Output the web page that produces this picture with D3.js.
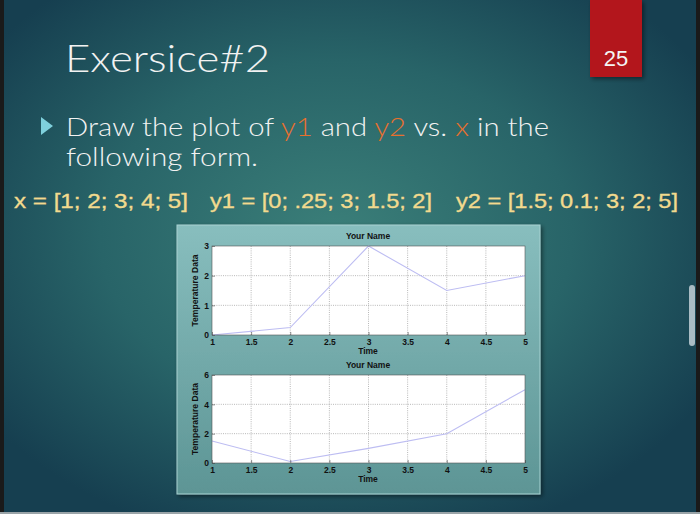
<!DOCTYPE html>
<html>
<head>
    <title>Exersice#2</title>
    <script src="https://d3js.org/d3.v7.min.js"></script>
    <style>
        body { margin: 0; background: #1a1a1a; overflow: hidden; }
        .tick-label { font-family: "Liberation Sans", Arial; font-size: 8.5px; font-weight: bold; fill: #111; }
        .grid line { stroke: #9a9a9a; stroke-width: 0.7px; stroke-dasharray: 1,1.2; }
        .slide-text { font-family: Lato, "Open Sans", sans-serif; font-weight: 300; }
    </style>
</head>
<body>
    <div id="slide"></div>

    <script>
        // data
        const xValues = [1, 2, 3, 4, 5];
        const y1Values = [0, 0.25, 3, 1.5, 2];
        const y2Values = [1.5, 0.1, 1, 2, 5];   // as drawn in the lower plot
        const xTicks = [1, 1.5, 2, 2.5, 3, 3.5, 4, 4.5, 5];
        const y1Ticks = [0, 1, 2, 3];
        const y2Ticks = [0, 2, 4, 6];
        const plotTitle = "Your Name";
        const xLabel = "Time";
        const yLabel = "Temperature Data";

        const width = 700, height = 514;
        const svg = d3.select("#slide")
            .append("svg")
            .attr("width", width)
            .attr("height", height);

        const defs = svg.append("defs");
        const bg = defs.append("radialGradient")
            .attr("id", "bg")
            .attr("cx", "0.48").attr("cy", "0.46").attr("r", "0.62");
        bg.append("stop").attr("offset", "0%").attr("stop-color", "#3b7f79");
        bg.append("stop").attr("offset", "55%").attr("stop-color", "#286468");
        bg.append("stop").attr("offset", "100%").attr("stop-color", "#163f50");

        const frameGrad = defs.append("linearGradient")
            .attr("id", "frame").attr("x1", 0).attr("y1", 0).attr("x2", 0).attr("y2", 1);
        frameGrad.append("stop").attr("offset", "0%").attr("stop-color", "#88bebe");
        frameGrad.append("stop").attr("offset", "100%").attr("stop-color", "#5d9595");

        const shadow = defs.append("filter").attr("id", "shadow")
            .attr("x", "-10%").attr("y", "-10%").attr("width", "130%").attr("height", "130%");
        shadow.append("feDropShadow").attr("dx", 2).attr("dy", 2)
            .attr("stdDeviation", 2).attr("flood-color", "#000").attr("flood-opacity", 0.45);

        // slide background
        svg.append("rect").attr("x", 4).attr("y", 0)
            .attr("width", 692).attr("height", 512)
            .attr("fill", "url(#bg)");
        svg.append("rect").attr("x", 0).attr("y", 512)
            .attr("width", width).attr("height", 2).attr("fill", "#9aa4a8");

        // page number box
        svg.append("rect").attr("x", 590).attr("y", 0)
            .attr("width", 52).attr("height", 77)
            .attr("fill", "#b3191b").attr("filter", "url(#shadow)");
        svg.append("text").attr("x", 616).attr("y", 66)
            .attr("text-anchor", "middle")
            .attr("font-family", "Liberation Sans, Arial")
            .attr("font-size", 22).attr("fill", "#f4f4f4")
            .text("25");

        // scrollbar
        svg.append("rect").attr("x", 689).attr("y", 285)
            .attr("width", 6).attr("height", 61).attr("rx", 3)
            .attr("fill", "#a9bcc4");

        // title and bullet text
        svg.append("text").attr("class", "slide-text")
            .attr("x", 65).attr("y", 72)
            .attr("font-size", 37).attr("fill", "#f2f2f2")
            .attr("textLength", 205).attr("lengthAdjust", "spacingAndGlyphs")
            .text("Exersice#2");

        svg.append("path")
            .attr("d", d3.line()([[41, 117], [41, 135], [53, 126]]) + "Z")
            .attr("fill", "#7fd0dc");

        const line1 = svg.append("text").attr("class", "slide-text")
            .attr("x", 66).attr("y", 136)
            .attr("font-size", 25).attr("fill", "#f2f2f2")
            .attr("textLength", 483).attr("lengthAdjust", "spacingAndGlyphs");
        [["Draw the plot of ", "#f2f2f2"], ["y1", "#e8702e"], [" and ", "#f2f2f2"],
         ["y2", "#e8702e"], [" vs. ", "#f2f2f2"], ["x", "#e8702e"], [" in the", "#f2f2f2"]]
            .forEach(p => line1.append("tspan").attr("fill", p[1]).text(p[0]));

        svg.append("text").attr("class", "slide-text")
            .attr("x", 66).attr("y", 166)
            .attr("font-size", 25).attr("fill", "#f2f2f2")
            .attr("textLength", 192).attr("lengthAdjust", "spacingAndGlyphs")
            .text("following form.");

        // formula line
        const formulas = [
            {x: 14, w: 174, t: "x = [1; 2; 3; 4; 5]"},
            {x: 210, w: 222, t: "y1 = [0; .25; 3; 1.5; 2]"},
            {x: 456, w: 222, t: "y2 = [1.5; 0.1; 3; 2; 5]"}
        ];
        svg.selectAll(".formula")
            .data(formulas)
            .join("text")
            .attr("class", "formula")
            .attr("x", d => d.x).attr("y", 208)
            .attr("font-family", "Liberation Sans Narrow, Liberation Sans, Arial")
            .attr("font-size", 21).attr("fill", "#f2da8e")
            .attr("stroke", "#f2da8e").attr("stroke-width", 0.35)
            .attr("textLength", d => d.w).attr("lengthAdjust", "spacingAndGlyphs")
            .text(d => d.t);

        // figure window
        svg.append("rect").attr("x", 177).attr("y", 225)
            .attr("width", 363).attr("height", 269)
            .attr("fill", "url(#frame)")
            .attr("stroke", "#a9d2d2").attr("stroke-width", 1)
            .attr("filter", "url(#shadow)");

        function subplot(top, bottom, yValues, yTicks) {
            const x = d3.scaleLinear().domain([1, 5]).range([212, 525]);
            const y = d3.scaleLinear().domain([0, yTicks[yTicks.length - 1]]).range([bottom, top]);
            const g = svg.append("g");

            g.append("rect").attr("x", 212).attr("y", top)
                .attr("width", 313).attr("height", bottom - top)
                .attr("fill", "#ffffff");

            const grid = g.append("g").attr("class", "grid");
            grid.selectAll(".vx").data(xTicks.slice(1, -1)).join("line")
                .attr("x1", d => x(d)).attr("x2", d => x(d))
                .attr("y1", top).attr("y2", bottom);
            grid.selectAll(".hy").data(yTicks.slice(1, -1)).join("line")
                .attr("x1", 212).attr("x2", 525)
                .attr("y1", d => y(d)).attr("y2", d => y(d));

            g.append("path")
                .datum(xValues.map((v, i) => [v, yValues[i]]))
                .attr("fill", "none")
                .attr("stroke", "#bdbdf2")
                .attr("stroke-width", 1.1)
                .attr("d", d3.line().x(d => x(d[0])).y(d => y(d[1])));

            g.append("rect").attr("x", 212).attr("y", top)
                .attr("width", 313).attr("height", bottom - top)
                .attr("fill", "none").attr("stroke", "#555").attr("stroke-width", 0.6);

            const xAxis = g.append("g").attr("transform", `translate(0,${bottom})`)
                .call(d3.axisBottom(x).tickValues(xTicks).tickSizeInner(-3).tickSizeOuter(0)
                    .tickPadding(4).tickFormat(d3.format("")));
            const yAxis = g.append("g").attr("transform", "translate(212,0)")
                .call(d3.axisLeft(y).tickValues(yTicks).tickSizeInner(-3).tickSizeOuter(0)
                    .tickPadding(3).tickFormat(d3.format("")));
            [xAxis, yAxis].forEach(a => {
                a.select(".domain").remove();
                a.selectAll("line").attr("stroke", "#444").attr("stroke-width", 0.6);
                a.selectAll("text").attr("class", "tick-label").attr("font-family", null).attr("font-size", null);
            });

            g.append("text").attr("class", "tick-label")
                .attr("x", 368).attr("y", top - 7)
                .attr("text-anchor", "middle").text(plotTitle);
            g.append("text").attr("class", "tick-label")
                .attr("x", 368).attr("y", bottom + 19)
                .attr("text-anchor", "middle").text(xLabel);
            g.append("text").attr("class", "tick-label")
                .attr("transform", `translate(198,${(top + bottom) / 2}) rotate(-90)`)
                .attr("text-anchor", "middle")
                .attr("textLength", 72).attr("lengthAdjust", "spacingAndGlyphs")
                .text(yLabel);
        }

        subplot(246, 335, y1Values, y1Ticks);
        subplot(375, 463, y2Values, y2Ticks);
    </script>
</body>
</html>
